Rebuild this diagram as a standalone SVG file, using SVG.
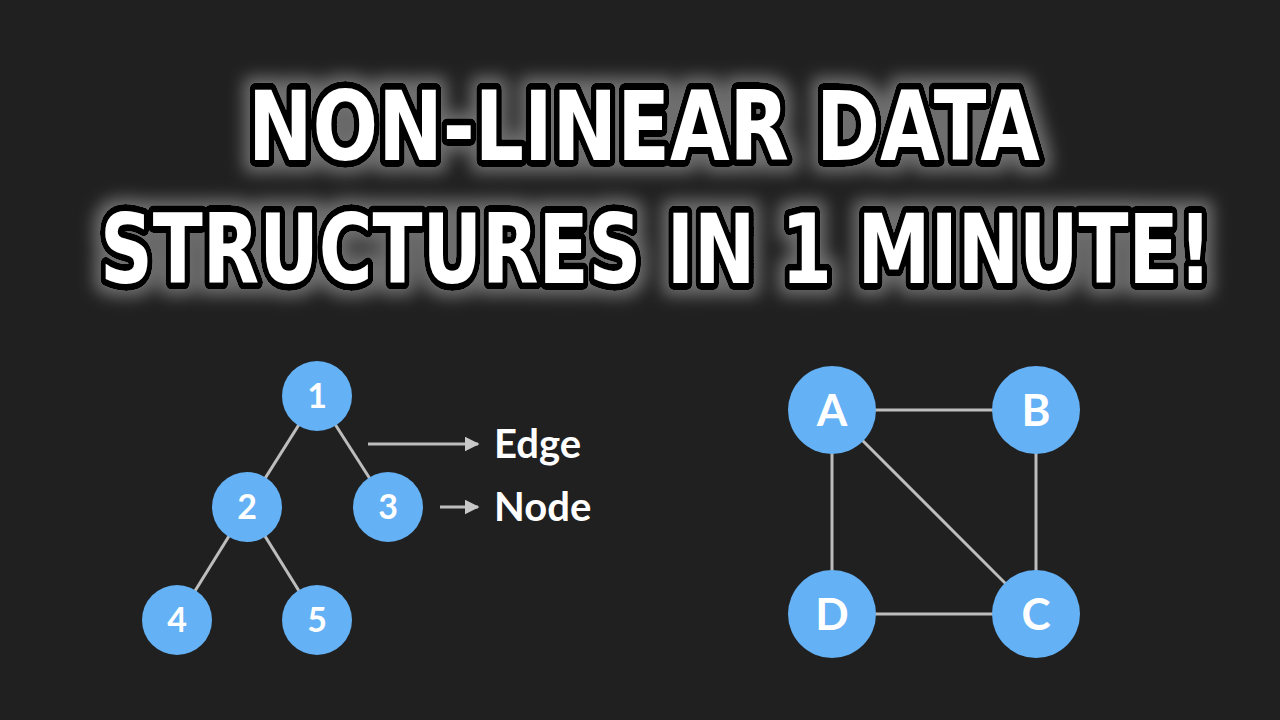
<svg xmlns="http://www.w3.org/2000/svg" width="1280" height="720" viewBox="0 0 1280 720">
<defs>
<filter id="glow" filterUnits="userSpaceOnUse" x="0" y="0" width="1280" height="360">
<feMorphology in="SourceAlpha" operator="dilate" radius="6" result="d"/>
<feGaussianBlur in="d" stdDeviation="8" result="b"/>
<feFlood flood-color="#ffffff" flood-opacity="0.35"/>
<feComposite in2="b" operator="in" result="g"/>
<feMerge><feMergeNode in="g"/><feMergeNode in="SourceGraphic"/></feMerge>
</filter>
<marker id="arr" viewBox="0 0 10 10" refX="9" refY="5" markerWidth="5" markerHeight="5" orient="auto"><path d="M0,0 L10,5 L0,10 z" fill="#c8c8c8"/></marker>
</defs>
<style>
.title{font-family:"DejaVu Sans","Liberation Sans",sans-serif;font-weight:bold;font-size:96px;fill:#fff;stroke:#000;stroke-width:14px;paint-order:stroke;stroke-linejoin:round}
.n{fill:#64b1f5}
.nt{font-family:Lato,"Liberation Sans",sans-serif;font-weight:bold;fill:#fff;text-anchor:middle}
.e{stroke:#bdbdbd;stroke-width:3;fill:none}
.lbl{font-family:Lato,"Liberation Sans",sans-serif;font-weight:bold;font-size:40px;fill:#fff}
</style>
<rect width="1280" height="720" fill="#202020"/>
<g id="title" filter="url(#glow)">
<text class="title" x="248" y="160" textLength="792" lengthAdjust="spacingAndGlyphs">NON-LINEAR DATA</text>
<text class="title" x="100" y="283" textLength="1112" lengthAdjust="spacingAndGlyphs">STRUCTURES IN 1 MINUTE!</text>
</g>
<g id="connectors">
<line class="e" x1="317" y1="396" x2="247" y2="507"/>
<line class="e" x1="317" y1="396" x2="388" y2="507"/>
<line class="e" x1="247" y1="507" x2="177" y2="620"/>
<line class="e" x1="247" y1="507" x2="317" y2="620"/>
<line class="e" x1="368" y1="444" x2="478" y2="444" marker-end="url(#arr)"/>
<line class="e" x1="440" y1="507" x2="478" y2="507" marker-end="url(#arr)"/>
<line class="e" x1="832" y1="410" x2="1036" y2="410"/>
<line class="e" x1="1036" y1="410" x2="1036" y2="614"/>
<line class="e" x1="1036" y1="614" x2="832" y2="614"/>
<line class="e" x1="832" y1="614" x2="832" y2="410"/>
<line class="e" x1="832" y1="410" x2="1036" y2="614"/>
</g>
<g id="n1"><circle class="n" cx="317" cy="396" r="35"/><text class="nt" x="317" y="408" font-size="34">1</text></g>
<g id="n2"><circle class="n" cx="247" cy="507" r="35"/><text class="nt" x="247" y="519" font-size="34">2</text></g>
<g id="n3"><circle class="n" cx="388" cy="507" r="35"/><text class="nt" x="388" y="519" font-size="34">3</text></g>
<g id="n4"><circle class="n" cx="177" cy="620" r="35"/><text class="nt" x="177" y="632" font-size="34">4</text></g>
<g id="n5"><circle class="n" cx="317" cy="620" r="35"/><text class="nt" x="317" y="632" font-size="34">5</text></g>
<g id="edge-label"><text class="lbl" x="494" y="458">Edge</text></g>
<g id="node-label"><text class="lbl" x="494" y="521">Node</text></g>
<g id="nA"><circle class="n" cx="832" cy="410" r="44"/><text class="nt" x="832" y="426" font-size="44">A</text></g>
<g id="nB"><circle class="n" cx="1036" cy="410" r="44"/><text class="nt" x="1036" y="426" font-size="44">B</text></g>
<g id="nC"><circle class="n" cx="1036" cy="614" r="44"/><text class="nt" x="1036" y="630" font-size="44">C</text></g>
<g id="nD"><circle class="n" cx="832" cy="614" r="44"/><text class="nt" x="832" y="630" font-size="44">D</text></g>
</svg>
